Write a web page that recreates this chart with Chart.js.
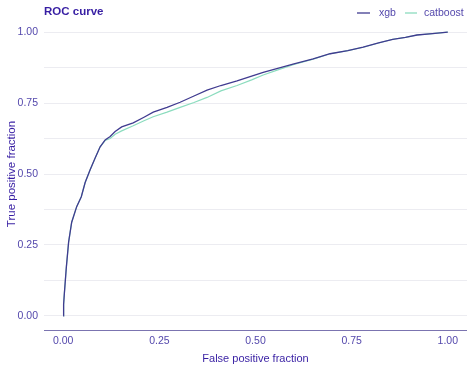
<!DOCTYPE html>
<html>
<head>
<meta charset="utf-8">
<script src="https://cdn.jsdelivr.net/npm/chart.js@4/dist/chart.umd.min.js"></script>
<style>
html,body{margin:0;padding:0;background:#fff;}
#wrap{width:474px;height:366px;position:relative;}
</style>
</head>
<body>
<div id="wrap"><canvas id="c" width="474" height="366"></canvas></div>
<script>
const chartTitle = "ROC curve";
const seriesNames = ["xgb", "catboost"];
const xTickValues = [0, 0.25, 0.5, 0.75, 1];
const yGridValues = [0, 0.125, 0.25, 0.375, 0.5, 0.625, 0.75, 0.875, 1];

const xgbFpr = [0, 0.001, 0.003, 0.008, 0.014, 0.022, 0.035, 0.047, 0.057, 0.070, 0.083, 0.096, 0.109, 0.122, 0.135, 0.152, 0.182, 0.210, 0.234, 0.270, 0.304, 0.340, 0.374, 0.410, 0.452, 0.490, 0.520, 0.560, 0.600, 0.650, 0.694, 0.740, 0.780, 0.820, 0.857, 0.890, 0.920, 0.960, 1.0];
const xgbTpr = [0, 0.04, 0.08, 0.17, 0.26, 0.33, 0.385, 0.42, 0.47, 0.515, 0.556, 0.596, 0.620, 0.632, 0.650, 0.666, 0.680, 0.700, 0.718, 0.735, 0.753, 0.775, 0.796, 0.812, 0.828, 0.845, 0.858, 0.873, 0.888, 0.906, 0.924, 0.935, 0.947, 0.962, 0.975, 0.982, 0.990, 0.995, 1.0];

const catFpr = [0, 0.001, 0.003, 0.008, 0.014, 0.022, 0.035, 0.047, 0.057, 0.070, 0.083, 0.096, 0.109, 0.122, 0.135, 0.152, 0.182, 0.210, 0.234, 0.270, 0.304, 0.340, 0.374, 0.410, 0.452, 0.490, 0.520, 0.560, 0.600, 0.650, 0.694, 0.740, 0.780, 0.820, 0.857, 0.890, 0.920, 0.960, 1.0];
const catTpr = [0, 0.04, 0.08, 0.17, 0.26, 0.33, 0.385, 0.42, 0.47, 0.515, 0.556, 0.596, 0.618, 0.625, 0.640, 0.652, 0.670, 0.688, 0.702, 0.718, 0.735, 0.752, 0.770, 0.793, 0.812, 0.832, 0.849, 0.868, 0.886, 0.905, 0.924, 0.935, 0.947, 0.962, 0.975, 0.982, 0.990, 0.995, 1.0];

const toPoints = (xs, ys) => xs.map((x, i) => ({x: x, y: ys[i]}));

const colXgb = '#403b90';
const colCat = '#8bdcbe';
const textCol = '#371ea3';
const tickCol = '#5448ac';
const fam = '"Liberation Sans", Arial, sans-serif';

const overlay = {
  id: 'overlay',
  afterDraw(chart) {
    const ctx = chart.ctx;
    ctx.save();
    ctx.fillStyle = textCol;
    ctx.font = 'bold 11.5px ' + fam;
    ctx.textBaseline = 'middle';
    ctx.textAlign = 'left';
    ctx.fillText(chartTitle, 44, 12);
    // legend
    ctx.font = '10.5px ' + fam;
    ctx.lineWidth = 1.3;
    ctx.strokeStyle = colXgb;
    ctx.beginPath(); ctx.moveTo(357, 13); ctx.lineTo(370, 13); ctx.stroke();
    ctx.fillStyle = tickCol;
    ctx.fillText(seriesNames[0], 379, 13);
    ctx.strokeStyle = colCat;
    ctx.beginPath(); ctx.moveTo(405, 13); ctx.lineTo(417, 13); ctx.stroke();
    ctx.fillText(seriesNames[1], 424, 13);
    // bottom axis line
    const a = chart.chartArea;
    ctx.strokeStyle = '#7b74b0';
    ctx.lineWidth = 1;
    ctx.beginPath(); ctx.moveTo(a.left, a.bottom + 0.5); ctx.lineTo(a.right, a.bottom + 0.5); ctx.stroke();
    ctx.restore();
  }
};

new Chart(document.getElementById('c'), {
  type: 'line',
  data: {
    datasets: [
      {label: seriesNames[0], data: toPoints(xgbFpr, xgbTpr), borderColor: colXgb, borderWidth: 1.3, pointRadius: 0, fill: false, tension: 0},
      {label: seriesNames[1], data: toPoints(catFpr, catTpr), borderColor: colCat, borderWidth: 1.2, pointRadius: 0, fill: false, tension: 0}
    ]
  },
  options: {
    responsive: false,
    animation: false,
    layout: {padding: {top: 18, right: 7, left: 5, bottom: 0}},
    plugins: {legend: {display: false}, title: {display: false}, tooltip: {enabled: false}},
    scales: {
      x: {
        type: 'linear', min: -0.05, max: 1.05,
        afterBuildTicks: s => { s.ticks = xTickValues.map(v => ({value: v})); },
        afterFit: s => { s.height = 36; },
        grid: {display: false, drawTicks: false},
        border: {display: false},
        ticks: {color: tickCol, font: {size: 10.5, family: fam}, padding: 5, maxRotation: 0,
          callback: v => v.toFixed(2)},
        title: {display: true, text: 'False positive fraction', color: textCol, font: {size: 11, family: fam}, padding: {top: 0, bottom: 0}}
      },
      y: {
        type: 'linear', min: -0.05, max: 1.05,
        afterBuildTicks: s => { s.ticks = yGridValues.map(v => ({value: v})); },
        afterFit: s => { s.width = 39; },
        grid: {color: '#ececf1', lineWidth: 1, drawTicks: false},
        border: {display: false},
        ticks: {color: tickCol, font: {size: 10.5, family: fam}, padding: 6,
          callback: v => (Math.abs(v * 4 - Math.round(v * 4)) < 1e-9) ? v.toFixed(2) : ''},
        title: {display: true, text: 'True positive fraction', color: textCol, font: {size: 11.5, family: fam}, padding: {top: 0, bottom: 2}}
      }
    }
  },
  plugins: [overlay]
});
</script>
</body>
</html>
